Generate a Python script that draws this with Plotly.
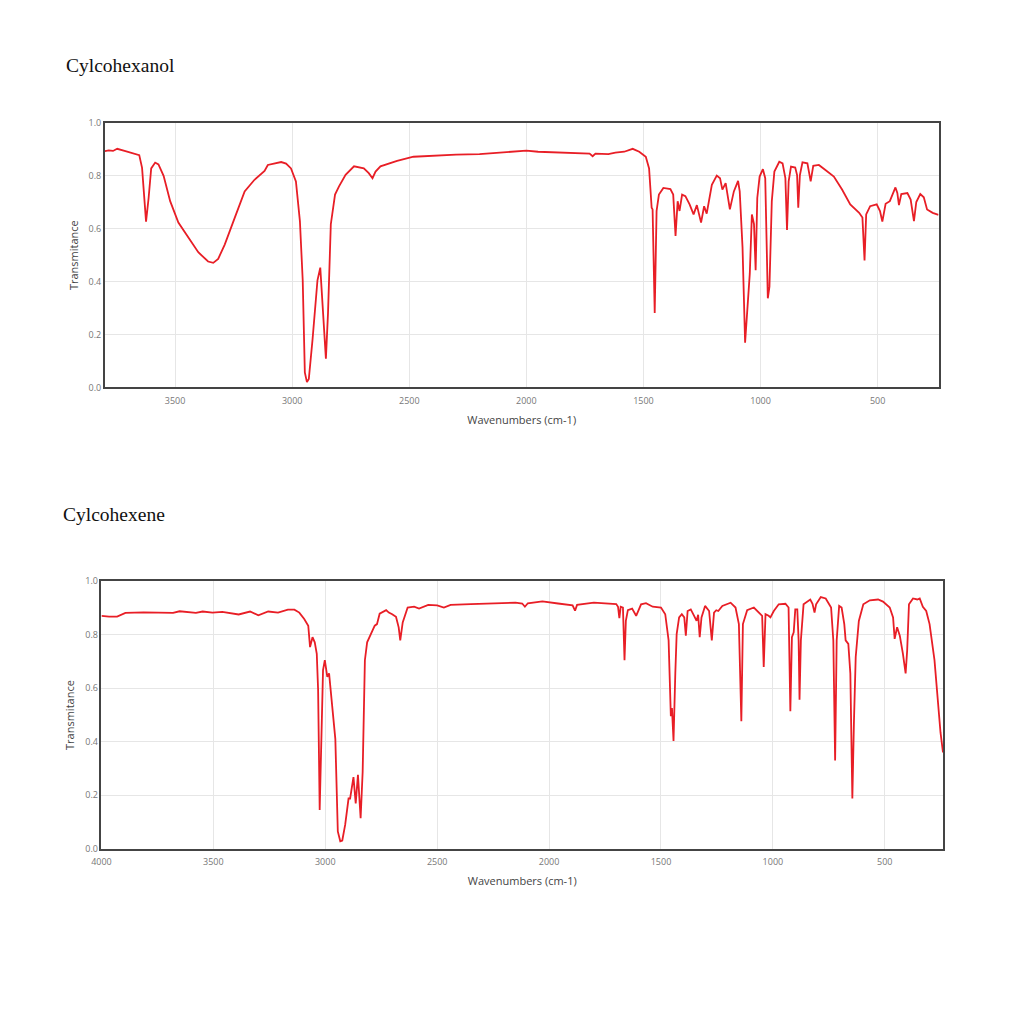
#!/usr/bin/env python3
"""
IR spectra of cyclohexanol and cyclohexene, two stacked panels
"""

import plotly.graph_objects as go

# --- Cyclohexanol spectrum (wavenumber cm-1, transmittance) ---
hexanol_wn = [3800, 3783, 3765, 3747, 3712, 3680, 3653, 3641, 3633, 3624, 3613, 3602, 3585, 3571,
              3549, 3521, 3486, 3443, 3401, 3359, 3337, 3316, 3288, 3245, 3203, 3161, 3118, 3104,
              3047, 3026, 3005, 2984, 2967, 2955, 2946, 2937, 2929, 2913, 2892, 2880, 2871, 2856,
              2847, 2835, 2817, 2800, 2772, 2736, 2694, 2673, 2657, 2644, 2623, 2552, 2482, 2400,
              2300, 2200, 2100, 2050, 2000, 1950, 1850, 1760, 1730, 1717, 1705, 1650, 1620, 1582,
              1546, 1518, 1490, 1476, 1469, 1465, 1461, 1452, 1444, 1434, 1415, 1385, 1373, 1363,
              1354, 1346, 1335, 1321, 1303, 1286, 1272, 1254, 1241, 1230, 1208, 1187, 1173, 1163,
              1149, 1131, 1114, 1096, 1089, 1077, 1066, 1058, 1046, 1037, 1028, 1021, 1014, 1004,
              990, 980, 973, 969, 962, 952, 941, 931, 920, 906, 894, 887, 880, 870, 852, 844, 839,
              832, 821, 800, 786, 775, 751, 723, 687, 652, 617, 579, 565, 556, 549, 532, 504, 490,
              480, 466, 448, 424, 416, 409, 399, 373, 359, 345, 335, 318, 303, 289, 265, 240]
hexanol_t = [0.893, 0.896, 0.894, 0.902, 0.893, 0.885, 0.878, 0.83, 0.72, 0.627, 0.716, 0.828, 0.85,
             0.843, 0.80, 0.704, 0.623, 0.567, 0.511, 0.476, 0.471, 0.486, 0.540, 0.642, 0.741,
             0.785, 0.818, 0.841, 0.852, 0.846, 0.828, 0.779, 0.629, 0.405, 0.057, 0.02, 0.032,
             0.182, 0.405, 0.453, 0.331, 0.109, 0.281, 0.617, 0.729, 0.76, 0.804, 0.836, 0.828,
             0.81, 0.791, 0.816, 0.836, 0.856, 0.872, 0.876, 0.880, 0.882, 0.888, 0.892, 0.895,
             0.891, 0.889, 0.887, 0.884, 0.874, 0.884, 0.882, 0.888, 0.891, 0.902, 0.891, 0.872,
             0.828, 0.741, 0.679, 0.673, 0.281, 0.667, 0.729, 0.754, 0.75, 0.729, 0.573, 0.704,
             0.667, 0.729, 0.723, 0.692, 0.654, 0.689, 0.623, 0.685, 0.657, 0.766, 0.801, 0.791,
             0.748, 0.772, 0.673, 0.741, 0.781, 0.741, 0.53, 0.169, 0.281, 0.43, 0.654, 0.617,
             0.443, 0.716, 0.797, 0.825, 0.791, 0.53, 0.337, 0.381, 0.704, 0.816, 0.831, 0.853,
             0.847, 0.791, 0.595, 0.779, 0.835, 0.831, 0.803, 0.679, 0.803, 0.851, 0.847, 0.779,
             0.838, 0.841, 0.822, 0.797, 0.748, 0.692, 0.66, 0.642, 0.48, 0.654, 0.685, 0.692,
             0.667, 0.627, 0.694, 0.704, 0.756, 0.735, 0.689, 0.731, 0.735, 0.71, 0.629, 0.701,
             0.731, 0.719, 0.673, 0.66, 0.652]

# --- Cyclohexene spectrum ---
hexene_wn = [4000, 3966, 3930, 3893, 3812, 3680, 3651, 3578, 3548, 3504, 3460, 3387, 3336, 3299,
             3255, 3211, 3167, 3138, 3116, 3094, 3076, 3068, 3057, 3047, 3038, 3032, 3025, 3018,
             3010, 3002, 2991, 2983, 2974, 2955, 2944, 2933, 2924, 2911, 2896, 2889, 2874, 2864,
             2854, 2842, 2833, 2823, 2813, 2794, 2779, 2769, 2757, 2728, 2716, 2701, 2684, 2672,
             2665, 2654, 2632, 2603, 2581, 2540, 2500, 2470, 2440, 2350, 2250, 2150, 2120, 2108,
             2095, 2030, 1960, 1920, 1895, 1884, 1875, 1800, 1700, 1692, 1686, 1680, 1670, 1663,
             1657, 1648, 1629, 1611, 1589, 1567, 1537, 1500, 1481, 1466, 1456, 1451, 1444, 1436,
             1430, 1419, 1407, 1396, 1389, 1381, 1367, 1352, 1341, 1334, 1327, 1319, 1303, 1285,
             1273, 1263, 1253, 1244, 1226, 1189, 1167, 1152, 1141, 1134, 1115, 1085, 1060, 1048,
             1041, 1033, 1019, 1011, 996, 974, 944, 930, 922, 915, 907, 900, 891, 885, 881, 875,
             863, 833, 823, 814, 807, 786, 764, 740, 730, 722, 715, 704, 693, 681, 675, 663, 654,
             645, 638, 630, 616, 596, 567, 530, 508, 478, 463, 456, 445, 433, 419, 407, 400, 392,
             374, 355, 344, 330, 315, 300, 278, 263, 251, 240]
hexene_t = [0.871, 0.868, 0.868, 0.882, 0.884, 0.882, 0.888, 0.882, 0.887, 0.883, 0.886, 0.876,
            0.887, 0.873, 0.887, 0.883, 0.894, 0.894, 0.883, 0.859, 0.834, 0.754, 0.791, 0.772,
            0.729, 0.594, 0.145, 0.434, 0.668, 0.705, 0.643, 0.656, 0.582, 0.41, 0.065, 0.028,
            0.031, 0.09, 0.188, 0.188, 0.268, 0.17, 0.277, 0.114, 0.287, 0.705, 0.772, 0.809,
            0.834, 0.84, 0.879, 0.892, 0.883, 0.877, 0.867, 0.828, 0.779, 0.846, 0.902, 0.905,
            0.898, 0.912, 0.91, 0.902, 0.912, 0.915, 0.917, 0.92, 0.917, 0.905, 0.918, 0.925,
            0.917, 0.913, 0.91, 0.89, 0.912, 0.92, 0.915, 0.905, 0.862, 0.905, 0.902, 0.705,
            0.852, 0.892, 0.898, 0.871, 0.914, 0.918, 0.905, 0.902, 0.877, 0.779, 0.496, 0.526,
            0.403, 0.656, 0.803, 0.865, 0.877, 0.865, 0.797, 0.889, 0.895, 0.871, 0.852, 0.875,
            0.791, 0.865, 0.908, 0.889, 0.779, 0.883, 0.892, 0.889, 0.908, 0.92, 0.902, 0.84,
            0.477, 0.84, 0.892, 0.902, 0.883, 0.871, 0.68, 0.877, 0.871, 0.865, 0.889, 0.914,
            0.916, 0.902, 0.514, 0.791, 0.809, 0.895, 0.895, 0.779, 0.557, 0.779, 0.914, 0.932,
            0.916, 0.883, 0.914, 0.941, 0.936, 0.902, 0.779, 0.33, 0.779, 0.908, 0.902, 0.84,
            0.779, 0.766, 0.656, 0.188, 0.471, 0.717, 0.852, 0.914, 0.929, 0.932, 0.924, 0.902,
            0.865, 0.785, 0.828, 0.797, 0.729, 0.656, 0.742, 0.914, 0.936, 0.932, 0.936, 0.905,
            0.889, 0.84, 0.705, 0.557, 0.434, 0.36]

y_ticks = [0, 0.2, 0.4, 0.6, 0.8, 1.0]

RED = 'rgb(232,30,38)'
# the page body has an 8px margin, so the figure is a bit smaller than the window
OFF = 8
W, H = 1020 - 2 * OFF, 1024 - 2 * OFF


def px_x(v):
    return (v - OFF) / W


def px_y(v):
    return 1 - (v - OFF) / H


def xaxis_style(rng, left, right):
    return dict(
        domain=[px_x(left), px_x(right)], range=rng, dtick=500, tick0=0,
        showgrid=True, gridcolor='#e6e6e6', gridwidth=1,
        showline=True, linecolor='#444', linewidth=1.5, mirror=True,
        zeroline=False, ticks='outside', ticklen=4, tickcolor='rgba(0,0,0,0)',
        tickfont=dict(family='Open Sans', size=9, color='#777'),
        title=dict(text='Wavenumbers (cm-1)', standoff=10,
                   font=dict(family='Open Sans', size=11, color='#444')),
    )


def yaxis_style(bottom, top, anchor):
    return dict(
        domain=[px_y(bottom), px_y(top)], anchor=anchor, range=[0, 1.0], tickvals=y_ticks,
        tickformat='.1f',
        showgrid=True, gridcolor='#e6e6e6', gridwidth=1,
        showline=True, linecolor='#444', linewidth=1.5, mirror=True,
        zeroline=False, ticks='',
        tickfont=dict(family='Open Sans', size=9, color='#777'),
        title=dict(text='Transmitance', standoff=8,
                   font=dict(family='Open Sans', size=11, color='#444')),
    )


fig = go.Figure()
fig.add_trace(go.Scatter(x=hexanol_wn, y=hexanol_t, mode='lines',
                         line=dict(color=RED, width=1.8), xaxis='x', yaxis='y',
                         showlegend=False))
fig.add_trace(go.Scatter(x=hexene_wn, y=hexene_t, mode='lines',
                         line=dict(color=RED, width=1.8), xaxis='x2', yaxis='y2',
                         showlegend=False))

fig.update_layout(
    width=W, height=H,
    margin=dict(l=0, r=0, t=0, b=0),
    paper_bgcolor='white', plot_bgcolor='white',
    xaxis=xaxis_style([3800, 240], 95.7, 937.8) | dict(anchor='y'),
    yaxis=yaxis_style(385.3, 117.3, 'x'),
    xaxis2=xaxis_style([4000, 240], 92.3, 942.3) | dict(anchor='y2'),
    yaxis2=yaxis_style(852.7, 581.7, 'x2'),
    annotations=[
        dict(text='Cylcohexanol', x=px_x(54), y=px_y(59), xref='paper', yref='paper',
             xanchor='left', yanchor='middle', showarrow=False,
             font=dict(family='Liberation Serif', size=19.5, color='#111')),
        dict(text='Cylcohexene', x=px_x(51), y=px_y(514), xref='paper', yref='paper',
             xanchor='left', yanchor='middle', showarrow=False,
             font=dict(family='Liberation Serif', size=19.5, color='#111')),
    ],
)

fig.write_html("out.html")
